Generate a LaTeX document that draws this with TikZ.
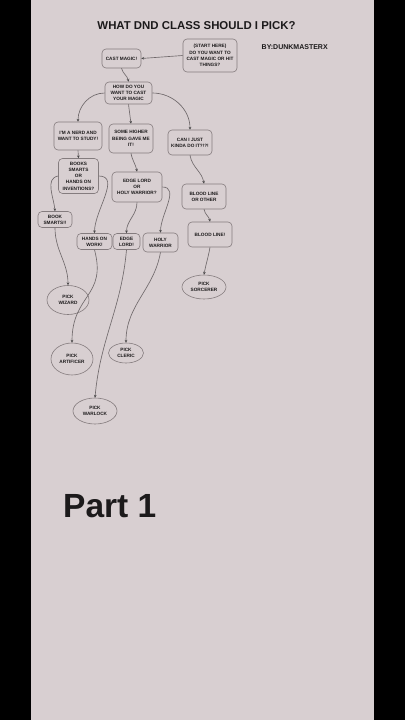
\documentclass[tikz,border=0pt]{standalone}
\usepackage{fontspec}
\setsansfont{Liberation Sans}
\usetikzlibrary{arrows.meta, shapes.geometric, positioning}
\definecolor{paper}{RGB}{216,207,209}
\definecolor{rim}{RGB}{132,124,126}
\definecolor{wire}{RGB}{112,105,107}
\definecolor{ink}{RGB}{28,26,27}
\begin{document}
\begin{tikzpicture}[x=1pt, y=-1pt,
            every node/.style = {font=\sffamily\bfseries, text=ink, inner sep=0.5pt},
            box/.style  = {rectangle, draw=rim, fill=paper, line width=0.6pt,
                           rounded corners=4pt, align=center,
                           font=\sffamily\bfseries\fontsize{4.7}{6.2}\selectfont},
            pick/.style = {ellipse, draw=rim, fill=paper, line width=0.6pt, align=center,
                           font=\sffamily\bfseries\fontsize{4.7}{6.2}\selectfont},
            link/.style = {draw=wire, line width=0.65pt,
                           -{Stealth[length=2.8pt,width=2.6pt,color=ink!80]}}
                                 ]
            % frame
            \fill[black] (0,0) rectangle (405,720);
            \fill[paper] (31,0) rectangle (374,720);
            \node (TITLE) [anchor=base, font=\sffamily\bfseries\fontsize{11.4}{12}\selectfont] at (196.5,29) {WHAT DND CLASS SHOULD I PICK?};
            \node (BY)    [anchor=base west, font=\sffamily\bfseries\fontsize{7}{8}\selectfont] at (261,49) {BY:DUNKMASTERX};
            % questions
            \node (START) [box, minimum width=54, minimum height=33] at (210,55.5) {(START HERE)\\DO YOU WANT TO\\CAST MAGIC OR HIT\\THINGS?};
            \node (CAST)  [box, minimum width=39, minimum height=19] at (121.5,58.5) {CAST MAGIC!};
            \node (HOW)   [box, minimum width=47, minimum height=22] at (128.5,93) {HOW DO YOU\\WANT TO CAST\\YOUR MAGIC};
            \node (NERD)  [box, minimum width=48, minimum height=28] at (78,136) {I'M A NERD AND\\WANT TO STUDY!};
            \node (HIGH)  [box, minimum width=44, minimum height=29] at (131,138.5) {SOME HIGHER\\BEING GAVE ME\\IT!};
            \node (JUST)  [box, minimum width=44, minimum height=25] at (190,142.5) {CAN I JUST\\KINDA DO IT?!?!};
            \node (BOOKS) [box, minimum width=40, minimum height=35] at (78.5,176) {BOOKS\\SMARTS\\OR\\HANDS ON\\INVENTIONS?};
            \node (EDGE)  [box, minimum width=50, minimum height=30] at (137,187) {EDGE LORD\\OR\\HOLY WARRIOR?};
            \node (LINEQ) [box, minimum width=44, minimum height=25] at (204,196.5) {BLOOD LINE\\OR OTHER};
            % answers
            \node (SMART) [box, minimum width=34, minimum height=16] at (55,219.5) {BOOK\\SMARTS!!};
            \node (HANDS) [box, minimum width=35, minimum height=16] at (94.5,241.5) {HANDS ON\\WORK!};
            \node (LORD)  [box, minimum width=27, minimum height=16] at (126.5,241.5) {EDGE\\LORD!};
            \node (HOLY)  [box, minimum width=35, minimum height=19] at (160.5,242.5) {HOLY\\WARRIOR};
            \node (BLOOD) [box, minimum width=44, minimum height=25] at (210,234.5) {BLOOD LINE!};
            % classes
            \node (SORC)  [pick, minimum width=44, minimum height=24] at (204,287) {PICK\\SORCERER};
            \node (WIZ)   [pick, minimum width=42, minimum height=29] at (68,300) {PICK\\WIZARD};
            \node (ART)   [pick, minimum width=42, minimum height=32] at (72,359) {PICK\\ARTIFICER};
            \node (CLER)  [pick, minimum width=35, minimum height=20] at (126,353) {PICK\\CLERIC};
            \node (WARL)  [pick, minimum width=44, minimum height=26] at (95,411) {PICK\\WARLOCK};
            \node (PART)  [anchor=base west, inner sep=0pt, font=\sffamily\bfseries\fontsize{33.5}{36}\selectfont] at (63,517) {Part 1};
            %
            \draw [link] (START.west) -- (CAST.east);
            \draw [link] (CAST.south) to[out=-75, in=100] (HOW.north);
            \draw [link] (HOW.west) to[out=180, in=90] (NERD.north);
            \draw [link] (HOW.south) -- (HIGH.north);
            \draw [link] (HOW.east) to[out=0, in=90] (JUST.north);
            \draw [link] (NERD.south) -- (BOOKS.north);
            \draw [link] (HIGH.south) to[out=-80, in=100] (EDGE.north);
            \draw [link] (JUST.south) to[out=-80, in=100] (LINEQ.north);
            \draw [link] (BOOKS.west) to[out=190, in=95] (SMART.north);
            \draw [link] (BOOKS.east) to[out=0, in=90] (HANDS.north);
            \draw [link] (EDGE.south) to[out=-90, in=90] (LORD.north);
            \draw [link] (EDGE.east) to[out=0, in=90] (HOLY.north);
            \draw [link] (LINEQ.south) to[out=-80, in=100] (BLOOD.north);
            \draw [link] (BLOOD.south) to[out=-100, in=80] (SORC.north);
            \draw [link] (SMART.south) to[out=-90, in=90] (WIZ.north);
            \draw [link] (HANDS.south) to[out=-75, in=90, looseness=1.3] (ART.north);
            \draw [link] (LORD.south) to[out=-95, in=85] (WARL.north);
            \draw [link] (HOLY.south) to[out=-100, in=90] (CLER.north);
    \end{tikzpicture}
\end{document}
